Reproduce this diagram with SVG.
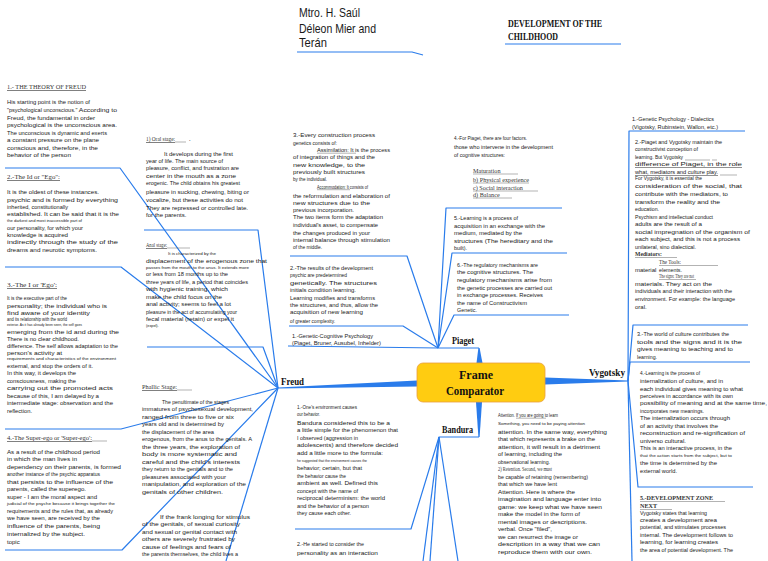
<svg xmlns="http://www.w3.org/2000/svg" width="768" height="561" viewBox="0 0 768 561">
<style>
.t{font-family:"Liberation Sans",Arial,sans-serif;font-size:6px;fill:#1a1a1a}
.s{font-size:4.8px}
.xs{font-size:3.8px}
.h{font-family:"Liberation Serif","Times New Roman",serif;font-size:6.2px;fill:#333}
.u{text-decoration:underline}
.hub{font-family:"Liberation Serif","Times New Roman",serif;font-weight:bold;font-size:10px;fill:#111}
.c{fill:none;stroke:#2A7CEB;stroke-width:1.2;stroke-linejoin:round}
.w{fill:#2A7CEB}
.ul{stroke:#666;stroke-width:0.5}
</style>
<rect width="768" height="561" fill="#ffffff"/>

<g id="connectors">
  <path class="c" d="M297,52 H412 L423,55"/>
  <path class="c" d="M505,44 H621"/>
  <path class="c" d="M5,168 H120 L278,388"/>
  <path class="c" d="M5,267 H121 L278,388"/>
  <path class="c" d="M144,230 H258 L278,388"/>
  <path class="c" d="M147,347 H263 L278,388"/>
  <path class="c" d="M5,429 H121 L278,388"/>
  <path class="c" d="M5,550 H122 L278,388"/>
  <path class="c" d="M226,561 L278,388"/>
  <polygon class="w" points="278,387.4 417,380.5 417,386.5 278,388.6"/>
  <path class="c" d="M288,346 L438,348 H479"/>
  <path class="c" d="M289,326 H403 L438,348"/>
  <path class="c" d="M290,256 H407 L438,348"/>
  <path class="c" d="M562,208 H446 L438,348"/>
  <path class="c" d="M567,253 H452 L438,348"/>
  <path class="c" d="M569,315 H454 L438,348"/>
  <polygon class="w" points="478.4,348 479.6,348 482.5,363 476.5,363"/>
  <polygon class="w" points="476,402 482,402 479.6,437 478.4,437"/>
  <path class="c" d="M479,437 H439 L411,529 H295"/>
  <path class="c" d="M439,437 L423,561"/>
  <path class="c" d="M439,437 L430,561"/>
  <path class="c" d="M439,437 L458,561"/>
  <polygon class="w" points="545,377.5 545,384.5 628,381.6 628,380.6"/>
  <path class="c" d="M628,381 L629,131 H745"/>
  <path class="c" d="M628,381 L633,325 H748"/>
  <path class="c" d="M628,381 L630,362 H750"/>
  <path class="c" d="M628,381 L638,487 H753"/>
  <path class="c" d="M628,381 L632,561"/>
</g>

<g id="author">
  <text class="t" x="299" y="17" style="font-size:13px" textLength="61" lengthAdjust="spacingAndGlyphs">Mtro. H. Saúl</text>
  <text class="t" x="299" y="33" style="font-size:13px" textLength="77" lengthAdjust="spacingAndGlyphs">Déleon Mier and</text>
  <text class="t" x="299" y="47" style="font-size:13px" textLength="28" lengthAdjust="spacingAndGlyphs">Terán</text>
</g>

<g id="title">
  <text class="hub" x="508" y="27" textLength="94" lengthAdjust="spacingAndGlyphs">DEVELOPMENT OF THE</text>
  <text class="hub" x="508" y="40" textLength="50" lengthAdjust="spacingAndGlyphs">CHILDHOOD</text>
</g>

<g id="central">
  <rect x="417" y="363" width="128" height="39" rx="6" fill="#FFCC11" stroke="#E8A040" stroke-width="0.8"/>
  <text class="hub" x="476" y="379" text-anchor="middle" style="font-size:12px">Frame</text>
  <text class="hub" x="475" y="395" text-anchor="middle" style="font-size:12px" textLength="58" lengthAdjust="spacingAndGlyphs">Comparator</text>
</g>

<g id="hub-freud"><text class="hub" x="281" y="385" textLength="23" lengthAdjust="spacingAndGlyphs">Freud</text></g>
<g id="hub-piaget"><text class="hub" x="452" y="344" textLength="22" lengthAdjust="spacingAndGlyphs">Piaget</text></g>
<g id="hub-bandura"><text class="hub" x="442" y="433" textLength="31" lengthAdjust="spacingAndGlyphs">Bandura</text></g>
<g id="hub-vygotsky"><text class="hub" x="589" y="376" textLength="36" lengthAdjust="spacingAndGlyphs">Vygotsky</text></g>

<g id="freud-theory">
  <text class="h u" x="7" y="89" textLength="79" lengthAdjust="spacingAndGlyphs">1.- THE THEORY OF FREUD</text>
  <text class="t" x="7" y="104" textLength="83" lengthAdjust="spacingAndGlyphs">His starting point is the notion of</text>
  <text class="t" x="7" y="112" textLength="110" lengthAdjust="spacingAndGlyphs"><tspan class="s">"psychological unconscious."</tspan> According to</text>
  <text class="t" x="7" y="120" textLength="88" lengthAdjust="spacingAndGlyphs">Freud, the fundamental in order</text>
  <text class="t" x="7" y="127" textLength="110" lengthAdjust="spacingAndGlyphs">psychological is the unconscious area.</text>
  <text class="t" x="7" y="135" textLength="100" lengthAdjust="spacingAndGlyphs">The unconscious is dynamic and exerts</text>
  <text class="t" x="7" y="142" textLength="92" lengthAdjust="spacingAndGlyphs">a constant pressure on the plane</text>
  <text class="t" x="7" y="150" textLength="91" lengthAdjust="spacingAndGlyphs">conscious and, therefore, in the</text>
  <text class="t" x="7" y="157" textLength="64" lengthAdjust="spacingAndGlyphs">behavior of the person</text>
</g>

<g id="freud-id">
  <text class="h u" x="7" y="179" textLength="53" lengthAdjust="spacingAndGlyphs">2.-The Id or "Ego":</text>
  <text class="t" x="7" y="194" textLength="92" lengthAdjust="spacingAndGlyphs">It is the oldest of these instances.</text>
  <text class="t" x="7" y="202" textLength="111" lengthAdjust="spacingAndGlyphs">psychic and is formed by everything</text>
  <text class="t" x="7" y="209" textLength="61" lengthAdjust="spacingAndGlyphs">inherited, constitutionally</text>
  <text class="t s" x="7" y="216" textLength="112" lengthAdjust="spacingAndGlyphs">established. It can be said that it is the</text>
  <text class="t xs" x="7" y="222" textLength="75" lengthAdjust="spacingAndGlyphs">the darkest and most inaccessible part of</text>
  <text class="t" x="7" y="230" textLength="76" lengthAdjust="spacingAndGlyphs">our personality, for which your</text>
  <text class="t" x="7" y="237" textLength="61" lengthAdjust="spacingAndGlyphs">knowledge is acquired</text>
  <text class="t" x="7" y="244" textLength="111" lengthAdjust="spacingAndGlyphs">indirectly through the study of the</text>
  <text class="t" x="7" y="252" textLength="90" lengthAdjust="spacingAndGlyphs">dreams and neurotic symptoms.</text>
</g>

<g id="freud-ego">
  <text class="h u" x="7" y="287" textLength="50" lengthAdjust="spacingAndGlyphs">3.-The I or 'Ego':</text>
  <text class="t" x="7" y="300" textLength="60" lengthAdjust="spacingAndGlyphs">It is the executive part of the</text>
  <text class="t" x="7" y="308" textLength="100" lengthAdjust="spacingAndGlyphs">personality; the individual who is</text>
  <text class="t" x="7" y="315" textLength="83" lengthAdjust="spacingAndGlyphs">find aware of your identity</text>
  <text class="t s" x="7" y="321" textLength="60" lengthAdjust="spacingAndGlyphs">and its relationship with the world</text>
  <text class="t xs" x="7" y="326" textLength="75" lengthAdjust="spacingAndGlyphs">exterior. As it has already been seen, the self goes</text>
  <text class="t" x="7" y="334" textLength="112" lengthAdjust="spacingAndGlyphs">emerging from the id and during the</text>
  <text class="t" x="7" y="341" textLength="72" lengthAdjust="spacingAndGlyphs">There is no clear childhood.</text>
  <text class="t s" x="7" y="348" textLength="111" lengthAdjust="spacingAndGlyphs">difference. The self allows adaptation to the</text>
  <text class="t" x="7" y="355" textLength="55" lengthAdjust="spacingAndGlyphs">person's activity at</text>
  <text class="t xs" x="7" y="360" textLength="109" lengthAdjust="spacingAndGlyphs">requirements and characteristics of the environment</text>
  <text class="t" x="7" y="368" textLength="86" lengthAdjust="spacingAndGlyphs">external, and stop the orders of it.</text>
  <text class="t" x="7" y="375" textLength="69" lengthAdjust="spacingAndGlyphs">In this way, it develops the</text>
  <text class="t" x="7" y="383" textLength="69" lengthAdjust="spacingAndGlyphs">consciousness, making the</text>
  <text class="t" x="7" y="390" textLength="106" lengthAdjust="spacingAndGlyphs">carrying out the promoted acts</text>
  <text class="t" x="7" y="398" textLength="92" lengthAdjust="spacingAndGlyphs">because of this, I am delayed by a</text>
  <text class="t" x="7" y="405" textLength="106" lengthAdjust="spacingAndGlyphs">intermediate stage: observation and the</text>
  <text class="t" x="7" y="413" textLength="25" lengthAdjust="spacingAndGlyphs">reflection.</text>
</g>

<g id="freud-superego">
  <text class="h u" x="7" y="440" textLength="85" lengthAdjust="spacingAndGlyphs">4.-The Super-ego or 'Super-ego':</text>
  <line class="ul" x1="92" y1="441" x2="107" y2="441"/>
  <text class="t" x="7" y="454" textLength="93" lengthAdjust="spacingAndGlyphs">As a result of the childhood period</text>
  <text class="t" x="7" y="461" textLength="70" lengthAdjust="spacingAndGlyphs">in which the man lives in</text>
  <text class="t" x="7" y="469" textLength="114" lengthAdjust="spacingAndGlyphs">dependency on their parents, is formed</text>
  <text class="t s" x="7" y="476" textLength="93" lengthAdjust="spacingAndGlyphs">another instance of the psychic apparatus</text>
  <text class="t" x="7" y="484" textLength="106" lengthAdjust="spacingAndGlyphs">that persists to the influence of the</text>
  <text class="t" x="7" y="491" textLength="79" lengthAdjust="spacingAndGlyphs">parents, called the superego.</text>
  <text class="t" x="7" y="499" textLength="90" lengthAdjust="spacingAndGlyphs">super - I am the moral aspect and</text>
  <text class="t xs" x="7" y="505" textLength="108" lengthAdjust="spacingAndGlyphs">judicial of the psyche because it brings together the</text>
  <text class="t s" x="7" y="513" textLength="106" lengthAdjust="spacingAndGlyphs">requirements and the rules that, as already</text>
  <text class="t" x="7" y="520" textLength="93" lengthAdjust="spacingAndGlyphs">we have seen, are received by the</text>
  <text class="t" x="7" y="528" textLength="93" lengthAdjust="spacingAndGlyphs">influence of the parents, being</text>
  <text class="t" x="7" y="536" textLength="78" lengthAdjust="spacingAndGlyphs">internalized by the subject.</text>
  <text class="t" x="7" y="544">topic</text>
</g>

<g id="oral-stage">
  <text class="h u" x="146" y="141" textLength="29" lengthAdjust="spacingAndGlyphs">1) Oral stage:</text>
  <line class="ul" x1="175" y1="142" x2="186" y2="142"/>
  <text class="h" x="189" y="141">.</text>
  <text class="t" x="164" y="156" textLength="69" lengthAdjust="spacingAndGlyphs">It develops during the first</text>
  <text class="t" x="146" y="163" textLength="77" lengthAdjust="spacingAndGlyphs">year of life. The main source of</text>
  <text class="t" x="146" y="170" textLength="93" lengthAdjust="spacingAndGlyphs">pleasure, conflict, and frustration are</text>
  <text class="t" x="146" y="178" textLength="90" lengthAdjust="spacingAndGlyphs">center in the mouth as a zone</text>
  <text class="t s" x="146" y="185" textLength="94" lengthAdjust="spacingAndGlyphs">erogenic. The child obtains his greatest</text>
  <text class="t" x="146" y="194" textLength="103" lengthAdjust="spacingAndGlyphs">pleasure in sucking, chewing, biting or</text>
  <text class="t" x="146" y="202" textLength="97" lengthAdjust="spacingAndGlyphs">vocalize, but these activities do not</text>
  <text class="t" x="146" y="210" textLength="102" lengthAdjust="spacingAndGlyphs">They are repressed or controlled late.</text>
  <text class="t" x="146" y="217">for the parents.</text>
</g>

<g id="anal-stage">
  <text class="h u" x="146" y="247" textLength="21" lengthAdjust="spacingAndGlyphs">Anal stage:</text>
  <line class="ul" x1="167" y1="248" x2="190" y2="248"/>
  <text class="t xs" x="168" y="255" textLength="48" lengthAdjust="spacingAndGlyphs">It is characterized by the</text>
  <text class="t" x="146" y="263" textLength="121" lengthAdjust="spacingAndGlyphs">displacement of the erogenous zone that</text>
  <text class="t xs" x="146" y="269" textLength="103" lengthAdjust="spacingAndGlyphs">passes from the mouth to the anus. It extends more</text>
  <text class="t" x="146" y="276" textLength="82" lengthAdjust="spacingAndGlyphs">or less from 18 months up to the</text>
  <text class="t s" x="146" y="284" textLength="102" lengthAdjust="spacingAndGlyphs">three years of life, a period that coincides</text>
  <text class="t" x="146" y="291" textLength="82" lengthAdjust="spacingAndGlyphs">with hygienic training, which</text>
  <text class="t" x="146" y="299" textLength="76" lengthAdjust="spacingAndGlyphs">make the child focus on the</text>
  <text class="t" x="146" y="306" textLength="85" lengthAdjust="spacingAndGlyphs">anal activity; seems to feel a lot</text>
  <text class="t s" x="146" y="314" textLength="91" lengthAdjust="spacingAndGlyphs">pleasure in the act of accumulating your</text>
  <text class="t" x="146" y="321" textLength="88" lengthAdjust="spacingAndGlyphs">fecal material (retain) or expel it</text>
  <text class="t xs" x="146" y="327">(expel).</text>
</g>

<g id="phallic-stage">
  <text class="h u" x="142" y="389" textLength="35" lengthAdjust="spacingAndGlyphs">Phallic Stage:</text>
  <line class="ul" x1="177" y1="390" x2="192" y2="390"/>
  <text class="t" x="162" y="404" textLength="67" lengthAdjust="spacingAndGlyphs">The penultimate of the stages</text>
  <text class="t" x="142" y="411" textLength="111" lengthAdjust="spacingAndGlyphs">immatures of psychosexual development,</text>
  <text class="t" x="142" y="419" textLength="92" lengthAdjust="spacingAndGlyphs">ranged from three to five or six</text>
  <text class="t" x="142" y="426" textLength="82" lengthAdjust="spacingAndGlyphs">years old and is determined by</text>
  <text class="t" x="142" y="434" textLength="72" lengthAdjust="spacingAndGlyphs">the displacement of the area</text>
  <text class="t s" x="142" y="441" textLength="110" lengthAdjust="spacingAndGlyphs">erogenous, from the anus to the genitals. A</text>
  <text class="t" x="142" y="449" textLength="98" lengthAdjust="spacingAndGlyphs">the three years, the exploration of</text>
  <text class="t" x="142" y="456" textLength="95" lengthAdjust="spacingAndGlyphs">body is more systematic and</text>
  <text class="t" x="142" y="464" textLength="98" lengthAdjust="spacingAndGlyphs">careful and the child's interests</text>
  <text class="t s" x="142" y="471" textLength="91" lengthAdjust="spacingAndGlyphs">they return to the genitals and to the</text>
  <text class="t" x="142" y="479" textLength="84" lengthAdjust="spacingAndGlyphs">pleasures associated with your</text>
  <text class="t" x="142" y="486" textLength="104" lengthAdjust="spacingAndGlyphs">manipulation, and exploration of the</text>
  <text class="t" x="142" y="494" textLength="81" lengthAdjust="spacingAndGlyphs">genitals of other children.</text>
  <text class="t" x="160" y="519" textLength="90" lengthAdjust="spacingAndGlyphs">If the frank longing for stimulus</text>
  <text class="t" x="142" y="526" textLength="98" lengthAdjust="spacingAndGlyphs">of the genitals, of sexual curiosity</text>
  <text class="t" x="142" y="534" textLength="95" lengthAdjust="spacingAndGlyphs">and sexual or genital contact with</text>
  <text class="t" x="142" y="541" textLength="93" lengthAdjust="spacingAndGlyphs">others are severely frustrated by</text>
  <text class="t" x="142" y="549" textLength="89" lengthAdjust="spacingAndGlyphs">cause of feelings and fears of</text>
  <text class="t" x="142" y="556" textLength="96" lengthAdjust="spacingAndGlyphs">the parents themselves, the child lives a</text>
</g>

<g id="piaget-3">
  <text class="t" x="293" y="137" textLength="82" lengthAdjust="spacingAndGlyphs">3.-Every construction process</text>
  <text class="t" x="293" y="145" textLength="44" lengthAdjust="spacingAndGlyphs">genetics consists of:</text>
  <text class="t s" x="317" y="152" textLength="73" lengthAdjust="spacingAndGlyphs">Assimilation: It is the process</text>
  <line class="ul" x1="317" y1="153.2" x2="356" y2="153.2"/>
  <text class="t" x="293" y="159" textLength="82" lengthAdjust="spacingAndGlyphs">of integration of things and the</text>
  <text class="t" x="293" y="167" textLength="72" lengthAdjust="spacingAndGlyphs">new knowledge, to the</text>
  <text class="t" x="293" y="174" textLength="72" lengthAdjust="spacingAndGlyphs">previously built structures</text>
  <text class="t" x="293" y="181" textLength="34" lengthAdjust="spacingAndGlyphs">by the individual.</text>
  <text class="t s" x="317" y="188.5" textLength="51" lengthAdjust="spacingAndGlyphs">Accommodation: It consists of</text>
  <line class="ul" x1="317" y1="189.7" x2="350" y2="189.7"/>
  <text class="t" x="293" y="197.5" textLength="97" lengthAdjust="spacingAndGlyphs">the reformulation and elaboration of</text>
  <text class="t" x="293" y="204.5" textLength="77" lengthAdjust="spacingAndGlyphs">new structures due to the</text>
  <text class="t" x="293" y="212" textLength="61" lengthAdjust="spacingAndGlyphs">previous incorporation.</text>
  <text class="t" x="293" y="219" textLength="90" lengthAdjust="spacingAndGlyphs">The two items form the adaptation</text>
  <text class="t" x="293" y="227" textLength="85" lengthAdjust="spacingAndGlyphs">individual's asset, to compensate</text>
  <text class="t" x="293" y="235" textLength="77" lengthAdjust="spacingAndGlyphs">the changes produced in your</text>
  <text class="t" x="293" y="242" textLength="97" lengthAdjust="spacingAndGlyphs">internal balance through stimulation</text>
  <text class="t s" x="293" y="249" textLength="29" lengthAdjust="spacingAndGlyphs">of the middle.</text>
</g>

<g id="piaget-2">
  <text class="t" x="290" y="270" textLength="83" lengthAdjust="spacingAndGlyphs">2.-The results of the development</text>
  <text class="t" x="290" y="277" textLength="57" lengthAdjust="spacingAndGlyphs">psychic are predetermined</text>
  <text class="t" x="290" y="285" textLength="87" lengthAdjust="spacingAndGlyphs">genetically. The structures</text>
  <text class="t" x="290" y="292" textLength="66" lengthAdjust="spacingAndGlyphs">initials condition learning.</text>
  <text class="t" x="290" y="300" textLength="85" lengthAdjust="spacingAndGlyphs">Learning modifies and transforms</text>
  <text class="t" x="290" y="307" textLength="88" lengthAdjust="spacingAndGlyphs">the structures, and thus, allow the</text>
  <text class="t" x="290" y="314" textLength="73" lengthAdjust="spacingAndGlyphs">acquisition of new learning</text>
  <text class="t" x="290" y="323" textLength="45" lengthAdjust="spacingAndGlyphs">of greater complexity.</text>
</g>

<g id="piaget-1">
  <text class="t" x="292" y="338" textLength="81" lengthAdjust="spacingAndGlyphs">1.-Genetic-Cognitive Psychology</text>
  <text class="t" x="292" y="345" textLength="89" lengthAdjust="spacingAndGlyphs">(Piaget, Bruner, Ausubel, Inhelder)</text>
</g>

<g id="piaget-4">
  <text class="t" x="454" y="140" textLength="73" lengthAdjust="spacingAndGlyphs">4.-For Piaget, there are four factors.</text>
  <text class="t" x="454" y="149" textLength="99" lengthAdjust="spacingAndGlyphs">those who intervene in the development</text>
  <text class="t" x="454" y="157" textLength="51" lengthAdjust="spacingAndGlyphs">of cognitive structures:</text>
  <text class="h s" x="473" y="173">Maturation</text>
  <line class="ul" x1="473" y1="174" x2="518" y2="174"/>
  <text class="h s" x="473" y="182">b) Physical experience</text>
  <line class="ul" x1="473" y1="183" x2="529" y2="183"/>
  <text class="h s" x="473" y="190">c) Social interaction</text>
  <line class="ul" x1="473" y1="191" x2="538" y2="191"/>
  <text class="h s" x="473" y="197">d) Balance</text>
  <line class="ul" x1="473" y1="198" x2="512" y2="198"/>
</g>

<g id="piaget-5">
  <text class="t" x="454" y="220" textLength="64" lengthAdjust="spacingAndGlyphs">5.-Learning is a process of</text>
  <text class="t" x="454" y="228" textLength="91" lengthAdjust="spacingAndGlyphs">acquisition in an exchange with the</text>
  <text class="t" x="454" y="235" textLength="68" lengthAdjust="spacingAndGlyphs">medium, mediated by the</text>
  <text class="t" x="454" y="243" textLength="99" lengthAdjust="spacingAndGlyphs">structures (The hereditary and the</text>
  <text class="t" x="454" y="250" textLength="13" lengthAdjust="spacingAndGlyphs">built).</text>
</g>

<g id="piaget-6">
  <text class="t" x="457" y="267" textLength="81" lengthAdjust="spacingAndGlyphs">6.-The regulatory mechanisms are</text>
  <text class="t" x="457" y="274" textLength="76" lengthAdjust="spacingAndGlyphs">the cognitive structures. The</text>
  <text class="t" x="457" y="282" textLength="95" lengthAdjust="spacingAndGlyphs">regulatory mechanisms arise from</text>
  <text class="t" x="457" y="290" textLength="95" lengthAdjust="spacingAndGlyphs">the genetic processes are carried out</text>
  <text class="t" x="457" y="297" textLength="86" lengthAdjust="spacingAndGlyphs">in exchange processes. Receives</text>
  <text class="t" x="457" y="305" textLength="70" lengthAdjust="spacingAndGlyphs">the name of Constructivism</text>
  <text class="t" x="457" y="312" textLength="20" lengthAdjust="spacingAndGlyphs">Genetic.</text>
</g>

<g id="vygotsky-1">
  <text class="t" x="632" y="121" textLength="82" lengthAdjust="spacingAndGlyphs">1.-Genetic Psychology - Dialectics</text>
  <text class="t" x="632" y="129" textLength="86" lengthAdjust="spacingAndGlyphs">(Vigotsky, Rubinstein, Wallon, etc.)</text>
</g>

<g id="vygotsky-2">
  <text class="t" x="635" y="144" textLength="87" lengthAdjust="spacingAndGlyphs">2.-Piaget and Vygotsky maintain the</text>
  <text class="t" x="635" y="151" textLength="63" lengthAdjust="spacingAndGlyphs">constructivist conception of</text>
  <text class="t" x="635" y="159" textLength="48" lengthAdjust="spacingAndGlyphs">learning. But Vygotsky</text>
  <line class="ul" x1="685" y1="160" x2="710" y2="160"/>
  <line class="ul" x1="712" y1="160" x2="717" y2="160"/>
  <text class="t s u" x="635" y="166" textLength="107" lengthAdjust="spacingAndGlyphs">difference of Piaget, in the role</text>
  <text class="t s u" x="635" y="174" textLength="83" lengthAdjust="spacingAndGlyphs">what, mediators and culture play.</text>
  <line class="ul" x1="720" y1="175" x2="737" y2="175"/>
  <text class="t" x="635" y="180" textLength="67" lengthAdjust="spacingAndGlyphs">For Vygotsky, it is essential the</text>
  <text class="t" x="635" y="188" textLength="107" lengthAdjust="spacingAndGlyphs">consideration of the social, that</text>
  <text class="t" x="635" y="196" textLength="93" lengthAdjust="spacingAndGlyphs">contribute with the mediators, to</text>
  <text class="t" x="635" y="204" textLength="85" lengthAdjust="spacingAndGlyphs">transform the reality and the</text>
  <text class="t" x="635" y="211" textLength="24" lengthAdjust="spacingAndGlyphs">education.</text>
  <text class="t" x="635" y="219" textLength="78" lengthAdjust="spacingAndGlyphs">Psychism and intellectual conduct</text>
  <text class="t" x="635" y="226" textLength="67" lengthAdjust="spacingAndGlyphs">adults are the result of a</text>
  <text class="t" x="635" y="234" textLength="115" lengthAdjust="spacingAndGlyphs">social impregnation of the organism of</text>
  <text class="t" x="635" y="241" textLength="105" lengthAdjust="spacingAndGlyphs">each subject, and this is not a process</text>
  <text class="t" x="635" y="249" textLength="61" lengthAdjust="spacingAndGlyphs">unilateral, sino dialectical.</text>
  <text class="h" x="635" y="256" style="font-weight:bold" textLength="27" lengthAdjust="spacingAndGlyphs">Mediators:</text>
  <line class="ul" x1="635" y1="257.5" x2="677" y2="257.5"/>
  <text class="h" x="659" y="264" textLength="22" lengthAdjust="spacingAndGlyphs">The Tools:</text>
  <line class="ul" x1="659" y1="265.5" x2="718" y2="265.5"/>
  <text class="t" x="635" y="272">material</text>
  <text class="t" x="659" y="272" textLength="23" lengthAdjust="spacingAndGlyphs">elements.</text>
  <text class="h xs" x="659" y="278" textLength="35" lengthAdjust="spacingAndGlyphs">The signs: They are not</text>
  <line class="ul" x1="659" y1="279.5" x2="696" y2="279.5"/>
  <text class="t" x="635" y="286" textLength="77" lengthAdjust="spacingAndGlyphs">materials. They act on the</text>
  <text class="t s" x="635" y="293" textLength="97" lengthAdjust="spacingAndGlyphs">individuals and their interaction with the</text>
  <text class="t s" x="635" y="301" textLength="100" lengthAdjust="spacingAndGlyphs">environment. For example: the language</text>
  <text class="t" x="635" y="309">oral.</text>
</g>

<g id="vygotsky-3">
  <text class="t" x="637" y="336" textLength="92" lengthAdjust="spacingAndGlyphs">3.-The world of culture contributes the</text>
  <text class="t" x="637" y="344" textLength="105" lengthAdjust="spacingAndGlyphs">tools and the signs and it is the</text>
  <text class="t" x="637" y="351" textLength="96" lengthAdjust="spacingAndGlyphs">gives meaning to teaching and to</text>
  <text class="t" x="637" y="359" textLength="20" lengthAdjust="spacingAndGlyphs">learning.</text>
</g>

<g id="vygotsky-4">
  <text class="t" x="640" y="375" textLength="60" lengthAdjust="spacingAndGlyphs">4.-Learning is the process of</text>
  <text class="t" x="640" y="383" textLength="83" lengthAdjust="spacingAndGlyphs">internalization of culture, and in</text>
  <text class="t" x="640" y="391" textLength="103" lengthAdjust="spacingAndGlyphs">each individual gives meaning to what</text>
  <text class="t s" x="640" y="398" textLength="93" lengthAdjust="spacingAndGlyphs">perceives in accordance with its own</text>
  <text class="t" x="640" y="405" textLength="127" lengthAdjust="spacingAndGlyphs">possibility of meaning and at the same time,</text>
  <text class="t" x="640" y="413" textLength="64" lengthAdjust="spacingAndGlyphs">incorporates new meanings.</text>
  <text class="t" x="640" y="420" textLength="90" lengthAdjust="spacingAndGlyphs">The internalization occurs through</text>
  <text class="t" x="640" y="428" textLength="78" lengthAdjust="spacingAndGlyphs">of an activity that involves the</text>
  <text class="t" x="640" y="435" textLength="105" lengthAdjust="spacingAndGlyphs">reconstruction and re-signification of</text>
  <text class="t" x="640" y="443" textLength="46" lengthAdjust="spacingAndGlyphs">universo cultural.</text>
  <text class="t" x="640" y="450" textLength="92" lengthAdjust="spacingAndGlyphs">This is an interactive process, in the</text>
  <text class="t xs" x="640" y="457" textLength="92" lengthAdjust="spacingAndGlyphs">that the action starts from the subject, but to</text>
  <text class="t" x="640" y="465" textLength="77" lengthAdjust="spacingAndGlyphs">the time is determined by the</text>
  <text class="t" x="640" y="473" textLength="37" lengthAdjust="spacingAndGlyphs">external world.</text>
</g>

<g id="vygotsky-5">
  <text class="h s" x="640" y="500" style="font-weight:bold" textLength="73" lengthAdjust="spacingAndGlyphs">5.-DEVELOPMENT ZONE</text>
  <line class="ul" x1="640" y1="501.5" x2="725" y2="501.5"/>
  <text class="h s" x="640" y="508" style="font-weight:bold" textLength="17" lengthAdjust="spacingAndGlyphs">NEXT</text>
  <line class="ul" x1="640" y1="509.5" x2="672" y2="509.5"/>
  <text class="t" x="640" y="515" textLength="67" lengthAdjust="spacingAndGlyphs">Vygotsky states that learning</text>
  <text class="t" x="640" y="522" textLength="77" lengthAdjust="spacingAndGlyphs">creates a development area</text>
  <text class="t" x="640" y="529" textLength="86" lengthAdjust="spacingAndGlyphs">potential, and stimulates processes</text>
  <text class="t" x="640" y="537" textLength="93" lengthAdjust="spacingAndGlyphs">internal. The development follows to</text>
  <text class="t" x="640" y="544" textLength="78" lengthAdjust="spacingAndGlyphs">learning, for learning creates</text>
  <text class="t" x="640" y="552" textLength="93" lengthAdjust="spacingAndGlyphs">the area of potential development. The</text>
</g>

<g id="bandura-1">
  <text class="t s" x="297" y="409" textLength="60" lengthAdjust="spacingAndGlyphs">1.-One's environment causes</text>
  <text class="t s" x="297" y="416" textLength="23" lengthAdjust="spacingAndGlyphs">our behavior.</text>
  <text class="t" x="297" y="425" textLength="93" lengthAdjust="spacingAndGlyphs">Bandura considered this to be a</text>
  <text class="t" x="297" y="432" textLength="101" lengthAdjust="spacingAndGlyphs">a little simple for the phenomenon that</text>
  <text class="t" x="297" y="440" textLength="61" lengthAdjust="spacingAndGlyphs">I observed (aggression in</text>
  <text class="t" x="297" y="447" textLength="101" lengthAdjust="spacingAndGlyphs">adolescents) and therefore decided</text>
  <text class="t" x="297" y="455" textLength="86" lengthAdjust="spacingAndGlyphs">add a little more to the formula:</text>
  <text class="t xs" x="297" y="462" textLength="70" lengthAdjust="spacingAndGlyphs">he suggested that the environment causes the</text>
  <text class="t" x="297" y="470" textLength="65" lengthAdjust="spacingAndGlyphs">behavior; certain, but that</text>
  <text class="t" x="297" y="478" textLength="49" lengthAdjust="spacingAndGlyphs">the behavior cause the</text>
  <text class="t" x="297" y="485" textLength="81" lengthAdjust="spacingAndGlyphs">ambient as well. Defined this</text>
  <text class="t" x="297" y="493" textLength="61" lengthAdjust="spacingAndGlyphs">concept with the name of</text>
  <text class="t s" x="297" y="500" textLength="88" lengthAdjust="spacingAndGlyphs">reciprocal determinism: the world</text>
  <text class="t" x="297" y="508" textLength="72" lengthAdjust="spacingAndGlyphs">and the behavior of a person</text>
  <text class="t" x="297" y="515" textLength="54" lengthAdjust="spacingAndGlyphs">they cause each other.</text>
</g>

<g id="bandura-2">
  <text class="t s" x="297" y="546" textLength="67" lengthAdjust="spacingAndGlyphs">2.-He started to consider the</text>
  <text class="t" x="297" y="555" textLength="81" lengthAdjust="spacingAndGlyphs">personality as an interaction</text>
</g>

<g id="bandura-attention">
  <text class="t s" x="498" y="417" textLength="60" lengthAdjust="spacingAndGlyphs">Attention. If you are going to learn</text>
  <line class="ul" x1="516" y1="418.2" x2="546" y2="418.2"/>
  <text class="t xs" x="498" y="424.5" textLength="87" lengthAdjust="spacingAndGlyphs">Something, you need to be paying attention</text>
  <text class="t" x="498" y="434" textLength="109" lengthAdjust="spacingAndGlyphs">attention. In the same way, everything</text>
  <text class="t" x="498" y="441" textLength="97" lengthAdjust="spacingAndGlyphs">that which represents a brake on the</text>
  <text class="t" x="498" y="449" textLength="102" lengthAdjust="spacingAndGlyphs">attention, it will result in a detriment</text>
  <text class="t" x="498" y="456" textLength="64" lengthAdjust="spacingAndGlyphs">of learning, including the</text>
  <text class="t" x="498" y="464" textLength="52" lengthAdjust="spacingAndGlyphs">observational learning.</text>
  <text class="h s" x="498" y="471" textLength="54" lengthAdjust="spacingAndGlyphs">2) Retention. Second, we must</text>
  <text class="t" x="498" y="479" textLength="90" lengthAdjust="spacingAndGlyphs">be capable of retaining (remembering)</text>
  <text class="t" x="498" y="486" textLength="59" lengthAdjust="spacingAndGlyphs">that which we have lent</text>
  <text class="t" x="498" y="494" textLength="77" lengthAdjust="spacingAndGlyphs">Attention. Here is where the</text>
  <text class="t" x="498" y="501" textLength="103" lengthAdjust="spacingAndGlyphs">imagination and language enter into</text>
  <text class="t" x="498" y="509" textLength="104" lengthAdjust="spacingAndGlyphs">game: we keep what we have seen</text>
  <text class="t" x="498" y="516" textLength="82" lengthAdjust="spacingAndGlyphs">make the model in the form of</text>
  <text class="t" x="498" y="524" textLength="89" lengthAdjust="spacingAndGlyphs">mental images or descriptions.</text>
  <text class="t" x="498" y="531" textLength="54" lengthAdjust="spacingAndGlyphs">verbal. Once "filed",</text>
  <text class="t" x="498" y="539" textLength="80" lengthAdjust="spacingAndGlyphs">we can resurrect the image or</text>
  <text class="t" x="498" y="546" textLength="102" lengthAdjust="spacingAndGlyphs">description in a way that we can</text>
  <text class="t" x="498" y="554" textLength="94" lengthAdjust="spacingAndGlyphs">reproduce them with our own.</text>
</g>
</svg>
